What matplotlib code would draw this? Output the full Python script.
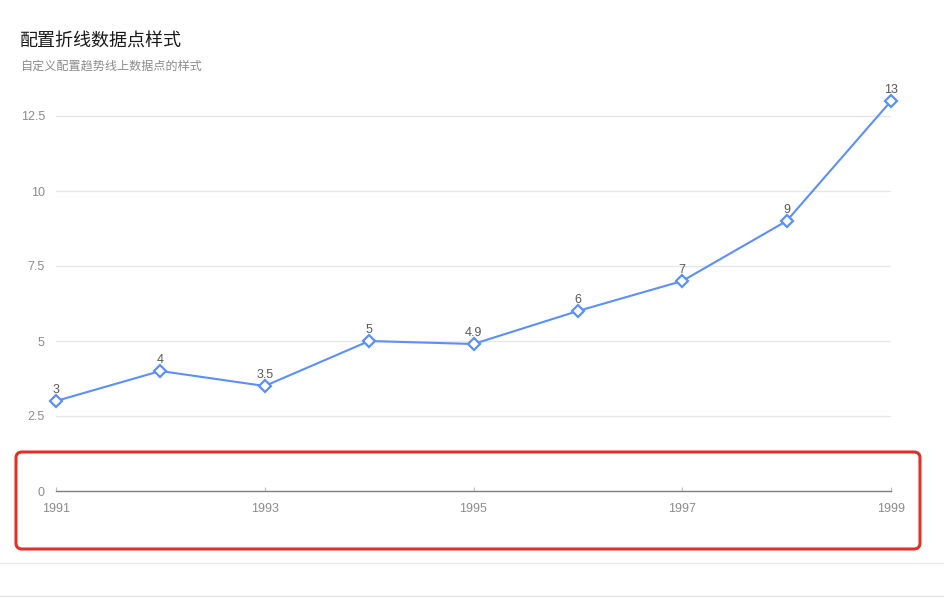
import matplotlib
matplotlib.use("Agg")
import matplotlib.pyplot as plt
from matplotlib.patches import FancyBboxPatch
from matplotlib.lines import Line2D

plt.rcParams['font.family'] = ['Noto Sans CJK SC', 'DejaVu Sans']
NUM_FONT = ['Liberation Sans', 'DejaVu Sans']

years = [1991, 1992, 1993, 1994, 1995, 1996, 1997, 1998, 1999]
values = [3, 4, 3.5, 5, 4.9, 6, 7, 9, 13]
labels = ["3", "4", "3.5", "5", "4.9", "6", "7", "9", "13"]
xticks = [1991, 1993, 1995, 1997, 1999]
yticks = [0, 2.5, 5, 7.5, 10, 12.5]
ytick_labels = ["0", "2.5", "5", "7.5", "10", "12.5"]

W, H = 945, 598
fig = plt.figure(figsize=(W / 100, H / 100), dpi=100)
ax = fig.add_axes([56 / W, (H - 491) / H, (891 - 56) / W, (491 - 101) / H])

color = '#5B8FF9'
ax.plot(years, values, color=color, lw=1.5, marker='D', markersize=6,
        markerfacecolor='white', markeredgecolor=color, markeredgewidth=1.6,
        clip_on=False, zorder=3)
for x, y, t in zip(years, values, labels):
    ax.annotate(t, (x, y), xytext=(0, 3.5), textcoords='offset points',
                ha='center', va='bottom', fontsize=9, color='#595959',
                family=NUM_FONT)

ax.set_xlim(1991, 1999)
ax.set_ylim(0, 13)
ax.set_xticks(xticks)
ax.set_xticklabels([str(x) for x in xticks], family=NUM_FONT)
ax.set_yticks(yticks)
ax.set_yticklabels(ytick_labels, family=NUM_FONT)
for y in yticks[1:]:
    ax.axhline(y, color='#e6e6e6', lw=0.9, zorder=0)
for s in ['top', 'right', 'left']:
    ax.spines[s].set_visible(False)
ax.spines['bottom'].set_color('#7f7f7f')
ax.spines['bottom'].set_linewidth(1.0)
ax.tick_params(axis='y', length=0, pad=8, labelsize=9, labelcolor='#8c8c8c')
ax.tick_params(axis='x', length=3, direction='in', color='#bfbfbf', pad=8.5,
               labelsize=9, labelcolor='#8c8c8c')

fig.text(20 / W, (H - 42) / H, '配置折线数据点样式', fontsize=13, color='#1a1a1a',
         ha='left', va='center')
fig.text(20 / W, (H - 66) / H, '自定义配置趋势线上数据点的样式', fontsize=8.7,
         color='#8c8c8c', ha='left', va='center')

rect = FancyBboxPatch((16, H - 549), 904, 97, boxstyle='round,pad=0,rounding_size=6',
                      transform=None, fill=False, edgecolor='#e0302a', lw=2.2)
fig.patches.append(rect)

fig.add_artist(Line2D([0, 1], [(H - 563) / H] * 2, color='#ebebeb', lw=1))
fig.add_artist(Line2D([0, 1], [(H - 595.5) / H] * 2, color='#e3e3e3', lw=1))

fig.savefig('out.png', dpi=100)
